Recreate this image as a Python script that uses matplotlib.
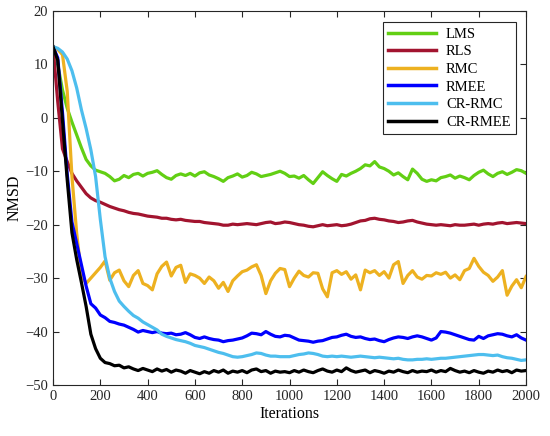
import numpy as np
import matplotlib
matplotlib.use("Agg")
import matplotlib.pyplot as plt

iterations = list(range(0, 2001, 20))

lms = [13.3, 10.0, 5.2, 1.8, -0.8, -3.2, -5.6, -7.8, -9.0, -9.8,
       -10.1, -10.4, -11.0, -11.8, -11.5, -10.8, -11.2, -10.6, -10.4, -10.9,
       -10.4, -10.2, -9.9, -10.6, -11.2, -11.5, -10.8, -10.5, -10.8, -10.4,
       -10.9, -10.3, -10.1, -10.7, -11.0, -11.4, -11.9, -11.2, -10.9, -10.5,
       -11.1, -10.8, -10.2, -10.5, -11.0, -10.8, -10.6, -10.3, -10.0, -10.4,
       -11.0, -10.9, -11.3, -10.8, -11.6, -12.3, -11.2, -10.1, -10.8, -11.4,
       -11.9, -10.6, -10.9, -10.4, -10.0, -9.5, -8.8, -9.0, -8.2, -9.2,
       -9.5, -10.0, -10.7, -10.3, -11.0, -11.6, -9.6, -10.4, -11.5, -11.9,
       -11.6, -11.8, -11.2, -11.0, -10.7, -11.3, -10.9, -11.2, -11.6, -10.8,
       -10.2, -9.8, -10.5, -11.0, -10.4, -10.1, -10.6, -10.2, -9.7, -9.9,
       -10.4]

rls = [13.3, 3.0, -5.8, -8.2, -10.4, -11.8, -13.0, -14.2, -15.0, -15.5,
       -15.8, -16.2, -16.6, -16.9, -17.2, -17.4, -17.7, -17.9, -18.0, -18.2,
       -18.4, -18.5, -18.6, -18.8, -18.8, -19.0, -19.1, -19.0, -19.2, -19.3,
       -19.4, -19.4, -19.6, -19.7, -19.8, -19.9, -20.1, -20.1, -19.9, -20.0,
       -19.9, -19.8, -19.9, -20.0, -19.8, -19.6, -19.5, -19.8, -19.7, -19.5,
       -19.6, -19.8, -20.0, -20.1, -20.3, -20.4, -20.2, -20.0, -20.2, -20.1,
       -20.0, -20.2, -20.1, -19.9, -19.6, -19.3, -19.2, -18.9, -18.8, -19.0,
       -19.1, -19.3, -19.4, -19.6, -19.5, -19.3, -19.2, -19.5, -19.7, -19.9,
       -20.0, -20.1, -20.0, -20.1, -20.2, -20.0, -20.1, -20.1, -20.0, -19.9,
       -20.1, -19.9, -19.8, -19.9, -19.7, -19.6, -19.8, -19.7, -19.6, -19.7,
       -19.8]

rmc = [13.3, 12.8, 11.8, 5.0, -11.0, -21.6, -29.5, -31.0, -30.0, -29.0,
       -28.0, -26.8, -30.4, -29.0, -28.5, -30.5, -31.6, -29.5, -28.6, -31.0,
       -31.4, -32.2, -29.2, -27.8, -27.0, -29.6, -28.0, -27.6, -30.8, -29.2,
       -29.5, -30.0, -31.0, -29.8, -30.5, -31.9, -30.8, -32.5, -30.5, -29.6,
       -28.8, -28.5, -27.9, -27.5, -29.5, -32.9, -30.5, -29.1, -28.2, -28.4,
       -31.6, -30.0, -28.7, -29.5, -29.8, -29.0, -29.1, -32.0, -33.5, -29.0,
       -28.6, -29.3, -28.8, -30.2, -29.4, -32.2, -28.5, -29.0, -28.6, -29.5,
       -28.8, -30.0, -27.5, -26.9, -31.0, -29.5, -28.6, -29.8, -30.2, -29.5,
       -29.6, -29.0, -29.3, -28.9, -30.0, -29.4, -30.3, -28.6, -28.2, -26.3,
       -27.8, -28.9, -29.5, -30.6, -29.8, -28.6, -33.2, -31.5, -30.3, -31.8,
       -29.7]

rmee = [13.3, 11.2, 1.0, -10.5, -19.5, -23.5, -27.5, -31.5, -34.8, -35.6,
        -36.9, -37.4, -38.1, -38.3, -38.6, -38.8, -39.2, -39.6, -40.1, -39.8,
        -40.0, -40.2, -40.0, -40.3, -40.4, -40.3, -40.6, -40.5, -40.2, -40.6,
        -41.1, -41.3, -41.0, -41.3, -41.5, -41.6, -41.9, -41.7, -41.6, -41.4,
        -41.2, -40.8, -40.3, -40.4, -40.6, -40.0, -40.5, -40.9, -41.0, -40.7,
        -40.8, -41.2, -41.6, -41.7, -41.8, -42.0, -41.8, -41.7, -41.4, -41.1,
        -41.0, -40.7, -40.5, -40.9, -41.1, -41.0, -41.3, -41.5, -41.4, -41.7,
        -41.9, -41.5, -41.2, -41.0, -41.1, -41.3, -41.0, -40.8, -41.0, -41.3,
        -41.6, -41.2, -40.0, -40.1, -40.3, -40.6, -40.9, -41.2, -41.5, -41.6,
        -40.9, -41.3, -40.8, -40.6, -40.4, -40.5, -40.8, -41.0, -40.6, -41.2,
        -41.6]

cr_rmc = [13.3, 13.0, 12.3, 11.0, 8.8, 5.6, 1.5, -2.0, -6.0, -11.0,
          -19.0, -26.0, -30.0, -32.5, -34.3, -35.3, -36.2, -37.0, -37.5, -38.2,
          -38.7, -39.2, -39.7, -40.5, -40.9, -41.2, -41.5, -41.7, -41.9, -42.2,
          -42.6, -42.8, -43.0, -43.3, -43.6, -43.9, -44.1, -44.4, -44.7, -44.8,
          -44.7, -44.5, -44.3, -44.0, -44.1, -44.4, -44.6, -44.6, -44.7, -44.7,
          -44.7, -44.5, -44.3, -44.2, -44.0, -44.1, -44.3, -44.6, -44.7, -44.6,
          -44.7, -44.6, -44.7, -44.8, -44.7, -44.6, -44.7, -44.8, -44.9, -44.8,
          -44.9, -45.0, -45.1, -45.0, -45.2, -45.3, -45.3, -45.2, -45.2, -45.1,
          -45.2, -45.1, -45.0, -45.0, -44.9, -44.8, -44.7, -44.6, -44.5, -44.4,
          -44.3, -44.3, -44.4, -44.5, -44.4, -44.7, -44.9, -45.0, -45.2, -45.4,
          -45.3]

cr_rmee = [13.3, 10.8, -0.5, -11.6, -21.5, -26.5, -30.8, -35.3, -40.5, -43.2,
           -45.0, -45.8, -46.0, -46.4, -46.3, -46.8, -46.6, -47.0, -47.3, -46.9,
           -47.2, -47.5, -47.0, -47.4, -47.1, -47.6, -47.2, -47.4, -47.8, -47.3,
           -47.6, -47.9, -47.5, -47.8, -47.3, -47.6, -47.2, -47.8, -47.4, -47.6,
           -47.3, -47.7, -47.2, -47.0, -47.5, -47.3, -47.8, -47.4, -47.6, -47.5,
           -47.7, -47.3, -47.6, -47.2, -47.5, -47.7, -47.3, -47.0, -47.4, -47.6,
           -47.2, -47.5, -46.8, -47.3, -47.6, -47.4, -47.2, -47.7, -47.3, -47.5,
           -47.8, -47.4, -47.6, -47.2, -47.5, -47.7, -47.3, -47.6, -47.4, -47.5,
           -47.2, -47.6, -47.3, -47.5, -46.9, -47.3, -47.6, -47.4, -47.7, -47.3,
           -47.6, -47.8, -47.4, -47.6, -47.2, -47.5, -47.3, -47.7, -47.2, -47.4,
           -47.3]

series_names = ["LMS", "RLS", "RMC", "RMEE", "CR-RMC", "CR-RMEE"]
series_values = [lms, rls, rmc, rmee, cr_rmc, cr_rmee]
series_colors = ["#62cf14", "#a2142f", "#edb120", "#0000ff", "#4dbeee", "#000000"]

x_ticks = list(range(0, 2001, 200))
y_ticks = list(range(-50, 21, 10))

plt.rcParams['font.family'] = ['Liberation Serif', 'DejaVu Serif']
plt.rcParams['font.size'] = 10.5

fig = plt.figure(figsize=(5.5, 4.36), dpi=100)
ax = fig.add_axes([0.0964, 0.117, 0.86, 0.858])

for name, vals, col in zip(series_names, series_values, series_colors):
    ax.plot(iterations, vals, color=col, lw=2.3, label=name)

ax.set_xlim(0, 2000)
ax.set_ylim(-50, 20)
ax.set_xticks(x_ticks)
ax.set_yticks(y_ticks)
ax.tick_params(direction='in', top=True, right=True, length=4, width=0.8,
               labelsize=10.5, colors='#262626')
for s in ax.spines.values():
    s.set_linewidth(0.8)
    s.set_color('#262626')
ax.set_xlabel("Iterations", fontsize=11.5, labelpad=2)
ax.set_ylabel("NMSD", fontsize=11.5, labelpad=2)

leg = ax.legend(loc='upper right', bbox_to_anchor=(0.978, 0.969), fancybox=False,
                edgecolor='#262626', framealpha=1, handlelength=3.3,
                borderpad=0.35, labelspacing=0.3, handletextpad=0.7,
                fontsize=10.5, borderaxespad=0)
leg.get_frame().set_linewidth(0.8)
for line in leg.get_lines():
    line.set_linewidth(2.5)

fig.savefig("out.png", dpi=100)
